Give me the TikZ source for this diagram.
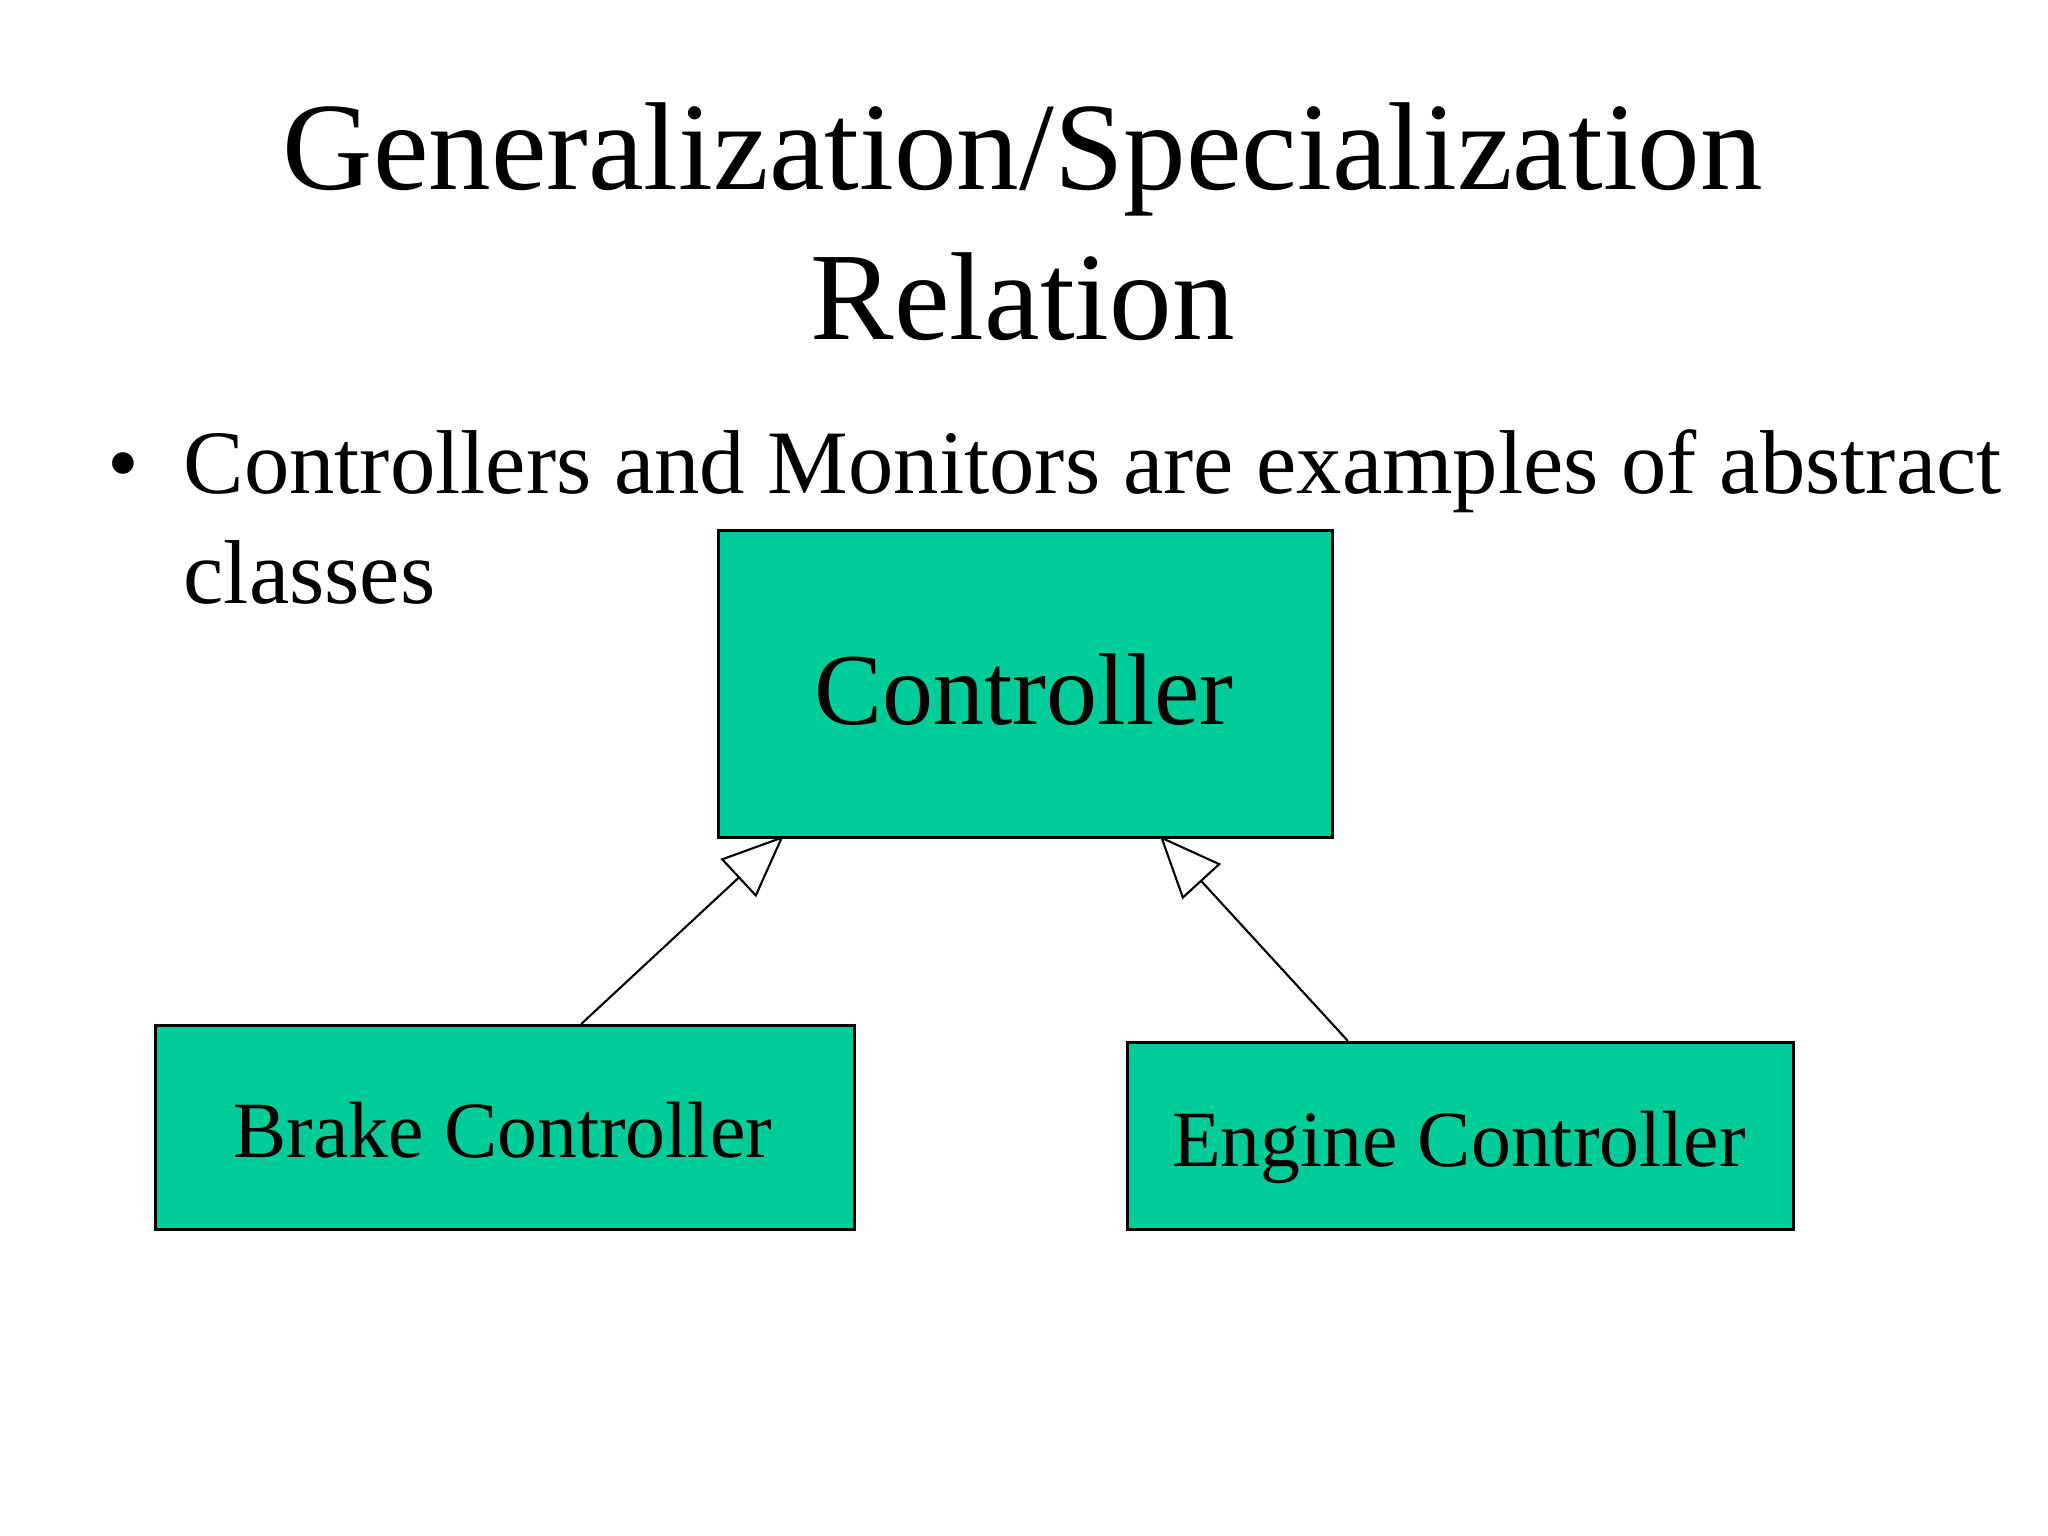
\documentclass[tikz,border=0pt]{standalone}
\usepackage{fontspec}
\setmainfont{Liberation Serif}
\usetikzlibrary{arrows.meta}
\definecolor{boxg}{HTML}{00CC99}
\begin{document}
\begin{tikzpicture}[x=0.01306cm,y=-0.01306cm,
  cls/.style={draw=black,fill=boxg,line width=0.8pt,inner sep=0pt,anchor=north west},
  gen/.style={-{Triangle[open,length=0.62cm,width=0.52cm]},line width=0.6pt,shorten >=0pt}]
\useasboundingbox (0,0) rectangle (1568,1176);
\node[anchor=base,font=\fontsize{35.6pt}{40pt}\selectfont] (t1) at (783,145) {Generalization/Specialization};
\node[anchor=base,font=\fontsize{35.6pt}{40pt}\selectfont] (t2) at (783,260) {Relation};
\node[anchor=base west,inner sep=0pt,font=\fontsize{25.8pt}{32pt}\selectfont] (bul) at (82,378) {•};
\node[anchor=base west,inner sep=0pt,font=\fontsize{25.8pt}{32pt}\selectfont] (l1) at (140,378) {Controllers and Monitors are examples of abstract};
\node[anchor=base west,inner sep=0pt,font=\fontsize{25.8pt}{32pt}\selectfont] (l2) at (140,462) {classes};
\node[cls,minimum width=470*0.01306cm,minimum height=235*0.01306cm] (c) at (549,405) {};
\node[anchor=base,font=\fontsize{29pt}{34pt}\selectfont] (ct) at (784,555) {Controller};
\node[cls,minimum width=535*0.01306cm,minimum height=156*0.01306cm] (b) at (118,784) {};
\node[anchor=base,font=\fontsize{22.7pt}{28pt}\selectfont] (bt) at (385,886) {Brake Controller};
\node[cls,minimum width=510*0.01306cm,minimum height=143*0.01306cm] (e) at (862,797) {};
\node[anchor=base,font=\fontsize{22.7pt}{28pt}\selectfont] (et) at (1117,893) {Engine Controller};
\coordinate (bs) at (445,784);
\coordinate (ct1) at (600,640);
\coordinate (es) at (1032,797);
\coordinate (ct2) at (888,640);
\draw[gen] (bs) -- (ct1);
\draw[gen] (es) -- (ct2);
\end{tikzpicture}
\end{document}
